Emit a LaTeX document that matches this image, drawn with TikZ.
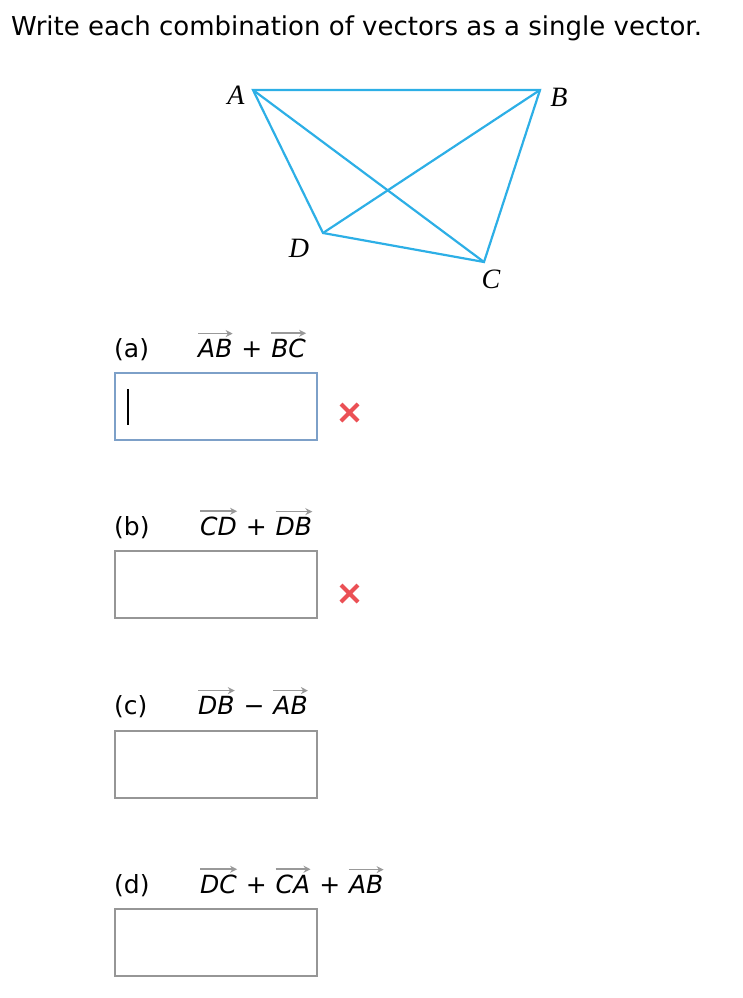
\documentclass[tikz,border=0pt]{standalone}
\usepackage{fontspec}
\setmainfont{DejaVu Sans}
\newfontfamily\lab{Liberation Serif}
\usetikzlibrary{arrows.meta}
\definecolor{geo}{RGB}{45,175,230}
\definecolor{boxb}{RGB}{125,160,200}
\definecolor{boxg}{RGB}{150,150,150}
\definecolor{xred}{RGB}{235,80,85}
\newcommand\vv[1]{\tikz[baseline=(t.base)]{\node[inner sep=0pt](t){\itshape #1}; \draw[gray!80,line width=1.6pt,-{Stealth[length=7pt,width=7pt]}] ([yshift=5pt]t.north west) -- ([yshift=5pt]t.north east);}}
\begin{document}
\begin{tikzpicture}[x=1pt,y=-1pt,
  geoline/.style={geo,line width=2.2pt},
  vlab/.style={font=\lab\itshape\fontsize{28}{28}\selectfont,inner sep=0pt},
  txt/.style={font=\fontsize{25}{25}\selectfont,inner sep=0pt,anchor=base west},
  ansbox/.style={draw=boxg,line width=1.5pt},
  xmark/.style={xred,line width=4pt}]
\useasboundingbox (0,0) rectangle (742,998);
\node[anchor=base west,inner sep=0pt,font=\fontsize{26}{26}\selectfont] (title) at (11,36) {Write each combination of vectors as a single vector.};
\coordinate (A) at (253,90); \coordinate (B) at (540,90);
\coordinate (D) at (323,233); \coordinate (C) at (484,262);
\draw[geoline] (A)--(B)--(C)--(D)--cycle;
\draw[geoline] (A)--(C); \draw[geoline] (B)--(D);
\node[vlab] (lA) at (236,95) {A};
\node[vlab] (lB) at (559,97) {B};
\node[vlab] (lD) at (299,248) {D};
\node[vlab] (lC) at (491,279) {C};
% (a)
\node[txt] (la) at (114,357) {(a)};
\node[txt] (ea) at (197,357) {\vv{AB} + \vv{BC}};
\draw[ansbox,draw=boxb] (115,373) rectangle (317,440);
\draw[line width=1.6pt] (128,389)--(128,425);
\draw[xmark] (341,404)--(358,421) (358,404)--(341,421);
% (b)
\node[txt] (lb) at (114,535) {(b)};
\node[txt] (eb) at (199,535) {\vv{CD} + \vv{DB}};
\draw[ansbox] (115,551) rectangle (317,618);
\draw[xmark] (341,585)--(358,602) (358,585)--(341,602);
% (c)
\node[txt] (lc) at (114,714) {(c)};
\node[txt] (ec) at (197,714) {\vv{DB} − \vv{AB}};
\draw[ansbox] (115,731) rectangle (317,798);
% (d)
\node[txt] (ld) at (114,893) {(d)};
\node[txt] (ed) at (199,893) {\vv{DC} + \vv{CA} + \vv{AB}};
\draw[ansbox] (115,909) rectangle (317,976);
\end{tikzpicture}
\end{document}
